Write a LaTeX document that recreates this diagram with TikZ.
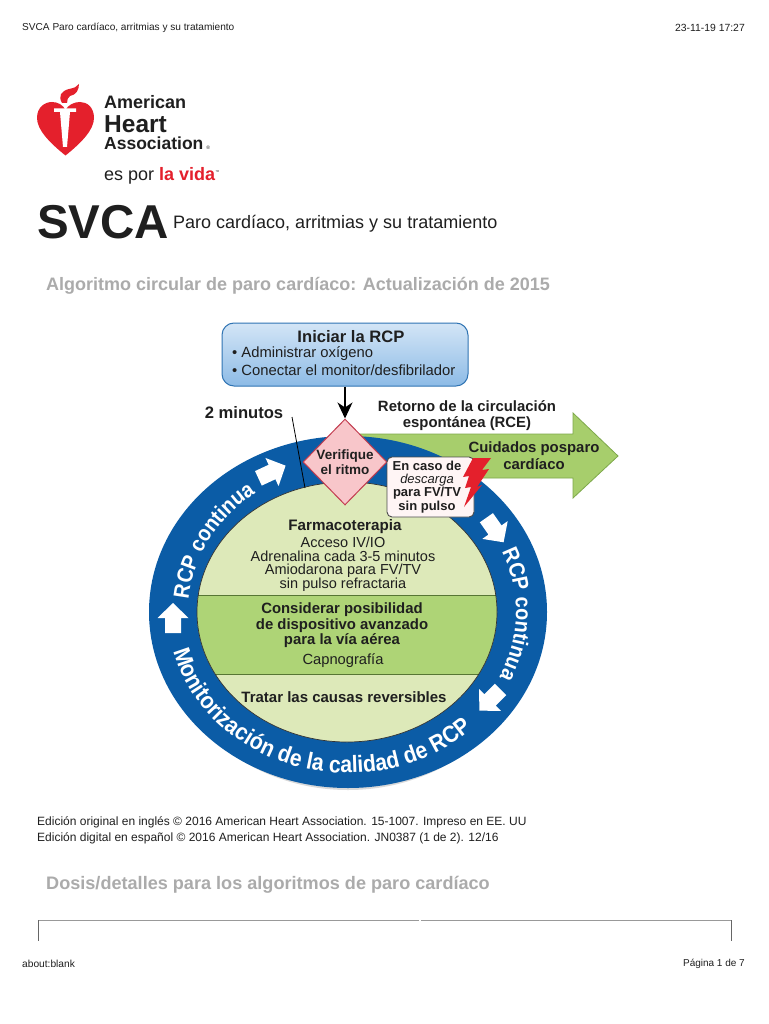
\documentclass[tikz,border=0pt]{standalone}
\usepackage{fontspec}
\setmainfont{Liberation Sans}
\newfontfamily\fuenteAro[FakeStretch=0.9]{Liberation Sans}
\usetikzlibrary{arrows.meta,shapes.geometric,decorations.text}

\definecolor{azulAro}{HTML}{0B5CA6}
\definecolor{azulClaro}{HTML}{D3E5F6}
\definecolor{azulMedio}{HTML}{8DBBE6}
\definecolor{verdeClaro}{HTML}{DDE9B9}
\definecolor{verdeMedio}{HTML}{AED476}
\definecolor{verdeFlecha}{HTML}{A7CE6C}
\definecolor{verdeBorde}{HTML}{7DA84A}
\definecolor{rosaRombo}{HTML}{F8C6CA}
\definecolor{rojoRombo}{HTML}{C23B4E}
\definecolor{rojoAHA}{HTML}{E4202C}
\definecolor{grisTitulo}{HTML}{ABABAB}

\newcommand{\fs}[1]{\fontsize{#1}{#1}\selectfont}
\newcommand{\flechaAro}[3]{\fill[white, shift={(#1,#2)}, rotate=#3]
    (-15,-8) -- (0,-8) -- (0,-15.5) -- (15,0) -- (0,15.5) -- (0,8) -- (-15,8) -- cycle;}

\tikzset{
    txt/.style={inner sep=0pt, text=black!88, align=center},
    izq/.style={txt, anchor=west, align=left}
}

\begin{document}
\begin{tikzpicture}[x=1pt, y=-1pt]
        \useasboundingbox (0,0) rectangle (768,1024);
        \fill[white] (0,0) rectangle (768,1024);

        % --- Cabecera y pie de la pagina ---
        \node[izq] (cabecera) at (22,28) {\fs{10.1}SVCA Paro cardíaco, arritmias y su tratamiento};
        \node[txt, anchor=east] (fecha) at (745,28) {\fs{10.4}23-11-19 17:27};
        \node[izq] (blanco) at (22,964) {\fs{10.2}about:blank};
        \node[txt, anchor=east] (pagina) at (745,964) {\fs{10}Página 1 de 7};

        % --- Logo ---
        \fill[rojoAHA] (65.5,155.5) .. controls (50,143) and (37,130) .. (37,118)
            .. controls (37,107) and (45,102) .. (52,102)
            .. controls (58,102) and (63,105) .. (65.5,110)
            .. controls (68,105) and (74,102) .. (80,102)
            .. controls (87,102) and (94,107) .. (94,118)
            .. controls (94,130) and (81,143) .. (65.5,155.5) -- cycle;
        \fill[rojoAHA] (62,103) .. controls (58,96) and (61,91) .. (69,89)
            .. controls (74,88) and (77,87) .. (79,84)
            .. controls (79,90) and (76,95) .. (70,96)
            .. controls (68,97) and (67,100) .. (67,103) -- cycle;
        \fill[white] (54,108.5) -- (76,108.5) -- (76,112) -- (70,112) -- (67,147) -- (63,147) -- (60,112) -- (54,112) -- cycle;

        \node[izq] (american) at (104,102) {\fs{18}\textbf{American}};
        \node[izq] (heart) at (104,124) {\fs{24.5}\textbf{Heart}};
        \node[izq] (association) at (104,143.5) {\fs{17.5}\textbf{Association}\,{\fs{5}®}};
        \node[izq] (lema) at (104,176) {\fs{18}es por \textcolor{rojoAHA}{\textbf{la vida}}{\fs{4}\raisebox{7pt}{™}}};

        % --- Titulos ---
        \node[izq] (svca) at (37,222) {\fs{47.5}\textbf{SVCA}};
        \node[izq] (subtitulo) at (173,224) {\fs{18}Paro cardíaco, arritmias y su tratamiento};
        \node[izq, text=grisTitulo] (algoritmo) at (46,286) {\fs{18}\textbf{Algoritmo circular de paro cardíaco: Actualización de 2015}};

        % --- Flecha verde (va debajo del aro) ---
        \filldraw[fill=verdeFlecha, draw=verdeBorde, line width=0.8pt] (360,434) -- (573,434) -- (573,413)
            -- (618,456) -- (573,498) -- (573,478) -- (440,478) -- (360,478) -- cycle;

        % --- Aro azul y circulo interior ---
        \fill[black!15] (348,614) ellipse [x radius=192, y radius=176];
        \fill[azulAro] (348,612) ellipse [x radius=199, y radius=176];
        \begin{scope}
        \clip (347,612) ellipse [x radius=150, y radius=130];
        \fill[verdeClaro] (190,470) rectangle (505,750);
        \fill[verdeMedio] (190,595) rectangle (505,674);
        \draw[verdeBorde!70!black, line width=0.5pt] (190,595) -- (505,595);
        \draw[verdeBorde!70!black, line width=0.5pt] (190,674) -- (505,674);
        \end{scope}
        \draw[black!80, line width=0.7pt] (347,612) ellipse [x radius=150, y radius=130];

        % Texto curvo sobre el aro
        \path[decorate, decoration={text along path, text align=center,
            text={|\fuenteAro\fs{22}\bfseries\color{white}|RCP continua}}]
            (352,612) ++(160:164 and 147) arc [start angle=160, end angle=257, x radius=164, y radius=147];
        \path[decorate, decoration={text along path, text align=center,
            text={|\fuenteAro\fs{22}\bfseries\color{white}|RCP continua}}]
            (352,612) ++(-44:164 and 147) arc [start angle=-44, end angle=46, x radius=164, y radius=147];
        \path[decorate, decoration={text along path, text align=center,
            text={|\fuenteAro\fs{23.5}\bfseries\color{white}|Monitorización de la calidad de RCP}}]
            (348,612) ++(178:180 and 161) arc [start angle=178, end angle=35, x radius=180, y radius=161];

        % Flechas blancas del aro
        \flechaAro{272}{472}{25}
        \flechaAro{495}{530}{-55}
        \flechaAro{490}{700}{-135}
        \flechaAro{173}{618}{90}

        % --- Caja superior ---
        \node[draw=azulAro!85, line width=1pt, rounded corners=12pt, top color=azulClaro,
            bottom color=azulMedio, minimum width=246pt, minimum height=63pt, inner sep=0pt] (iniciar) at (345,354.5) {};
        \node[txt] (iniciarT) at (351,337) {\fs{16.6}\textbf{Iniciar la RCP}};
        \node[izq] (iniciarA) at (232,354) {\fs{14.8}• Administrar oxígeno};
        \node[izq] (iniciarB) at (232,370) {\fs{14.8}• Conectar el monitor/desfibrilador};

        % --- Rombo ---
        \node[diamond, draw=rojoRombo, line width=1pt, fill=rosaRombo, inner sep=0pt, aspect=1,
            minimum width=84pt, minimum height=86pt, align=center, text=black!88] (verifique) at (345,462)
            {\fs{13.5}\textbf{Verifique}\\[1pt]\fs{13.5}\textbf{el ritmo}};
        \draw[line width=1.4pt, -{Stealth[length=16pt, width=15pt, inset=5pt]}] (iniciar) -- (verifique.north);

        % Linea de 2 minutos
        \node[txt] (minutos) at (244,413) {\fs{16.6}\textbf{2 minutos}};
        \coordinate (lineaA) at (292,417);
        \coordinate (lineaB) at (305,488);
        \draw[black, line width=0.8pt] (lineaA) -- (lineaB);

        % --- Textos de la flecha verde ---
        \node[txt] (retorno) at (467,406) {\fs{14.9}\textbf{Retorno de la circulación}};
        \node[txt] (espontanea) at (467,423.5) {\fs{14.9}\textbf{espontánea (RCE)}};
        \node[txt] (cuidados) at (534,449) {\fs{14.9}\textbf{Cuidados posparo}};
        \node[txt] (cardiaco) at (534,464) {\fs{14.9}\textbf{cardíaco}};

        % --- Caja de descarga y rayo ---
        \node[draw=black!70, line width=0.9pt, fill=red!4, rounded corners=5pt, minimum width=87pt,
            minimum height=60pt, inner sep=0pt] (descarga) at (430.5,487) {};
        \node[txt] (descargaA) at (427,466) {\fs{13}\textbf{En caso de}};
        \node[txt] (descargaB) at (427,480) {\fs{13}\textit{descarga}};
        \node[txt] (descargaC) at (427,493.5) {\fs{13}\textbf{para FV/TV}};
        \node[txt] (descargaD) at (427,507) {\fs{13}\textbf{sin pulso}};
        \fill[rojoAHA] (473,458) -- (491,458) -- (482,470) -- (489,469) -- (477,487) -- (482,485) -- (464,507)
            -- (471,487) -- (465,488) -- (469,476) -- (463,477) -- cycle;

        % --- Texto del circulo interior ---
        \node[txt] (farmaco) at (345,527) {\fs{15.2}\textbf{Farmacoterapia}};
        \node[txt] (acceso) at (343,542) {\fs{14.5}Acceso IV/IO};
        \node[txt] (adrenalina) at (343,556.5) {\fs{14.5}Adrenalina cada 3-5 minutos};
        \node[txt] (amiodarona) at (343,571) {\fs{14.5}Amiodarona para FV/TV};
        \node[txt] (refractaria) at (343,585) {\fs{14.5}sin pulso refractaria};
        \node[txt] (considerar) at (342,610) {\fs{14.9}\textbf{Considerar posibilidad}};
        \node[txt] (dispositivo) at (342,625.5) {\fs{14.9}\textbf{de dispositivo avanzado}};
        \node[txt] (via) at (342,641) {\fs{14.9}\textbf{para la vía aérea}};
        \node[txt] (capno) at (343,661) {\fs{14.7}Capnografía};
        \node[txt] (tratar) at (344,697) {\fs{15}\textbf{Tratar las causas reversibles}};

        % --- Pie ---
        \node[izq] (edicionA) at (37,822) {\fs{12}Edición original en inglés © 2016 American Heart Association. 15-1007. Impreso en EE. UU};
        \node[izq] (edicionB) at (37,838.5) {\fs{12}Edición digital en español © 2016 American Heart Association. JN0387 (1 de 2). 12/16};
        \node[izq, text=grisTitulo] (dosis) at (46,885) {\fs{18.1}\textbf{Dosis/detalles para los algoritmos de paro cardíaco}};

        % Tabla cortada
        \draw[black!40, line width=1pt] (38,920) -- (419,920);
        \draw[black!40, line width=1pt] (421,920) -- (731,920);
        \draw[black!60, line width=0.6pt] (38,920) -- (38,941);
        \draw[black!60, line width=0.6pt] (731,920) -- (731,941);
\end{tikzpicture}
\end{document}
